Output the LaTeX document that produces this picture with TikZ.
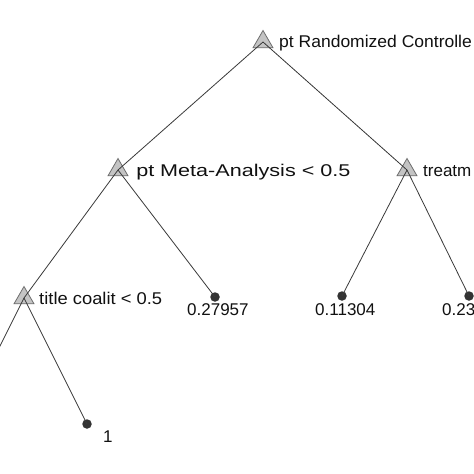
\documentclass[tikz,border=0pt]{standalone}
\usepackage{fontspec}
\setmainfont{Liberation Sans}
\usetikzlibrary{shapes.geometric}
\definecolor{edgec}{HTML}{3A3A3A}
\definecolor{dotc}{HTML}{333333}
\definecolor{trifill}{HTML}{C4C4C4}
\definecolor{triline}{HTML}{6E6E6E}
\definecolor{txtc}{HTML}{111111}
\tikzset{
  split/.style={regular polygon, regular polygon sides=3, minimum size=23pt, inner sep=0pt, fill=trifill, draw=triline, line width=0.8pt},
  leaf/.style={circle, fill=dotc, minimum size=9.5pt, inner sep=0pt},
  lbl/.style={text=txtc, font=\fontsize{17}{20}\selectfont, inner sep=0pt},
  edge/.style={draw=edgec, line width=0.8pt}
}
\begin{document}
\begin{tikzpicture}[x=1pt,y=-1pt]
\useasboundingbox (0,0) rectangle (474,474);
\fill[white] (0,0) rectangle (474,474);
\clip (0,0) rectangle (474,474);
% split nodes
\node[split] (root) at (263,42) {};
\node[split] (meta) at (118,170) {};
\node[split] (treat) at (407,170) {};
\node[split] (title) at (24,298) {};
% free end of the clipped left branch
\coordinate (lfar) at (-39,424);
% leaves
\node[leaf] (leafA) at (215,297) {};
\node[leaf] (leafB) at (342,296) {};
\node[leaf] (leafC) at (469,296) {};
\node[leaf] (leafD) at (87,424) {};
% edges
\draw[edge] (root.center) -- (meta.center);
\draw[edge] (root.center) -- (treat.center);
\draw[edge] (meta.center) -- (title.center);
\draw[edge] (meta.center) -- (leafA.center);
\draw[edge] (treat.center) -- (leafB.center);
\draw[edge] (treat.center) -- (leafC.center);
\draw[edge] (title.center) -- (lfar);
\draw[edge] (title.center) -- (leafD.center);
% labels
\node[lbl, anchor=base west, xscale=1.03, transform shape] (rootlbl) at (279,47) {pt Randomized Controlle};
\node[lbl, anchor=base west, xscale=1.27, transform shape] (metalbl) at (136,176) {pt Meta-Analysis < 0.5};
\node[lbl, anchor=base west] (treatlbl) at (423,176) {treatm};
\node[lbl, anchor=base west, xscale=1.08, transform shape] (titlelbl) at (39,304) {title coalit < 0.5};
\node[lbl, anchor=base west] (lblA) at (187,315) {0.27957};
\node[lbl, anchor=base west] (lblB) at (315,315) {0.11304};
\node[lbl, anchor=base west] (lblC) at (442,315) {0.23};
\node[lbl, anchor=base west] (lblD) at (103,442) {1};
\end{tikzpicture}
\end{document}
